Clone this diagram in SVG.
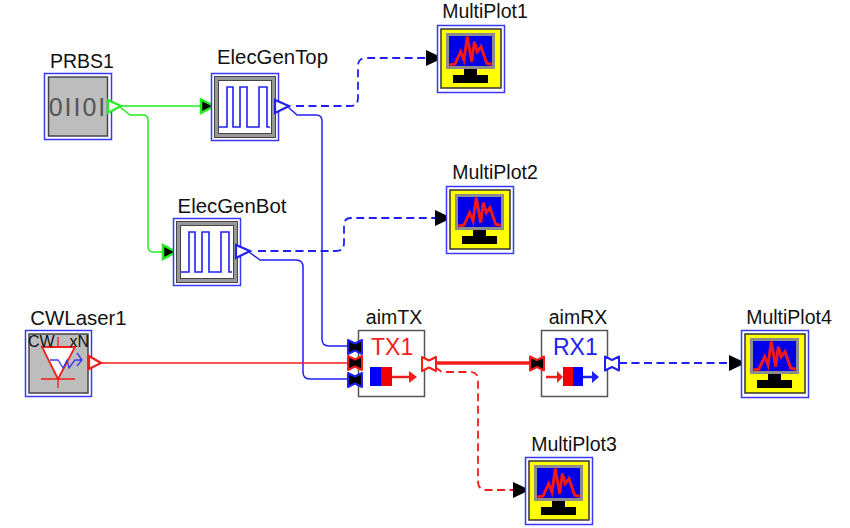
<svg xmlns="http://www.w3.org/2000/svg" xmlns:xlink="http://www.w3.org/1999/xlink" width="850" height="528" viewBox="0 0 850 528">
<style>
text{font-family:"Liberation Sans",Arial,sans-serif;fill:#111}
.lbl{font-size:19.5px;text-anchor:middle}
.wid{font-size:20.4px}
.out{fill:#fff;stroke:#3a3af5;stroke-width:1.5}
.wire{fill:none;stroke-width:1.5}
.dash{stroke-width:1.8;stroke-dasharray:8 4.500}
.g{stroke:#22ee22}.b{stroke:#2020f5}.r{stroke:#f51c1c}
.ah{fill:#000;stroke-width:2.5}
.po{fill:#fff;stroke-width:2.2}
</style>
<defs>
<g id="plot">
<rect class="out" x="0.5" y="0.5" width="67" height="67"/>
<rect x="4" y="4" width="60" height="59" fill="#ffff00" stroke="#333" stroke-width="1.500"/>
<rect x="9" y="8" width="49" height="36" fill="#8c8c8c"/>
<rect x="12" y="11" width="43" height="30" fill="#0000e8"/>
<polyline points="12.300,40 18,39 23.700,26.700 27,35 30.300,11.700 34.700,36.700 37.300,16.700 40.300,26.700 44,21.700 49.700,38.300 54.700,39.300" fill="none" stroke="#f01818" stroke-width="3"/>
<rect x="27" y="44" width="13" height="6" fill="#000"/>
<rect x="16" y="50" width="35" height="8" fill="#000"/>
</g>
<g id="wave">
<rect class="out" x="0.5" y="0.5" width="67" height="67"/>
<rect x="3" y="3" width="62" height="62" fill="#444"/>
<rect x="4" y="4" width="60" height="60" fill="#999"/>
<rect x="7" y="7" width="54" height="54" fill="#444"/>
<rect x="8" y="8" width="52" height="52" fill="#fff"/>
<polyline points="8,54 16,54 16,14 22,14 22,54 29,54 29,14 36,14 36,54 48,54 48,14 56,14 56,54 59,54" fill="none" stroke="#2020f5" stroke-width="1.600"/>
</g>
<g id="bow">
<polygon points="-7,-7 0,-3.500 7,-7 7,7 0,3.500 -7,7" stroke-linejoin="round"/>
</g>
</defs>

<g id="connectors">
<path class="wire g" d="M120,106 H200"/>
<path class="wire g" d="M120,107 L130,115 H143 Q148,115 148,120 V246 Q148,252 153,252 H162"/>
<path class="wire b dash" d="M296,106 H350 Q358,106 358,98 V66 Q358,58 366,58 H426"/>
<path class="wire b" d="M288,107 L297,115 H316 Q322,115 322,121 V339 Q322,346 329,346 H348"/>
<path class="wire b dash" d="M258,251 H336 Q344,251 344,243 V225 Q344,218 351,218 H436"/>
<path class="wire b" d="M249,252 L260,260 H296 Q303,260 303,267 V372 Q303,379 310,379 H348"/>
<path class="wire r" d="M100,363 H348"/>
<path class="wire r" style="stroke-width:3.500" d="M436,363 H531"/>
<path class="wire r dash" d="M435,367 L442,372 H470 Q478,372 478,380 V481 Q478,490 486,490 H514"/>
<path class="wire b dash" d="M619,363 H730"/>
<polygon class="ah g" points="201,99.500 201,113 214,106"/>
<polygon class="ah g" points="163,245 163,259 176,252"/>
<polygon points="426,50 426,66 443,58" fill="#000"/>
<polygon points="435,210 435,226 452,218" fill="#000"/>
<polygon points="513,482 513,498 530,490" fill="#000"/>
<polygon points="729,355 729,371 746,363" fill="#000"/>
</g>

<g id="PRBS1">
<text class="lbl" x="82" y="68">PRBS1</text>
<rect class="out" x="44.500" y="73.500" width="67" height="66"/>
<rect x="48.500" y="77" width="59" height="59" fill="#bdbdbd" stroke="#444" stroke-width="1.500"/>
<text x="78" y="116" font-size="25" text-anchor="middle" letter-spacing="2" style="fill:#555">0II0I</text>
<polygon class="po g" points="108,100 108,113 121,106"/>
</g>

<g id="ElecGenTop">
<text class="lbl wid" x="272.500" y="64">ElecGenTop</text>
<use xlink:href="#wave" href="#wave" x="211" y="73"/>
<polygon class="po b" points="275,100 275,113 289,106"/>
</g>

<g id="ElecGenBot">
<text class="lbl wid" x="232" y="213">ElecGenBot</text>
<use xlink:href="#wave" href="#wave" x="173" y="218"/>
<polygon class="po b" points="236,245 236,258 250,251"/>
</g>

<g id="CWLaser1">
<text class="lbl wid" x="78.500" y="325">CWLaser1</text>
<rect class="out" x="25.500" y="330.500" width="66" height="66"/>
<rect x="29" y="334" width="59" height="59" fill="#bdbdbd" stroke="#444" stroke-width="1.500"/>
<polygon points="42,347 75,347 58,379" fill="#fff" stroke="#f51c1c" stroke-width="1.800"/>
<path d="M58,337 V347 M41,379 H75 M58,379 V388" fill="none" stroke="#f51c1c" stroke-width="1.300"/>
<path d="M50,360 H58 L63,368 L67,360 L69,368 L75,360 H82 M77,353 L82,360 L77,366" fill="none" stroke="#3a3af5" stroke-width="1.300"/>
<text x="28" y="347" font-size="16">CW</text>
<text x="69.500" y="347" font-size="16">xN</text>
<polygon class="po r" points="89,356 89,369 101,363"/>
</g>

<g id="aimTX">
<text class="lbl" x="394" y="324">aimTX</text>
<rect x="358.500" y="330.500" width="66" height="66" fill="#fff" stroke="#555" stroke-width="1.500"/>
<text x="371" y="355" font-size="23" style="fill:#f51c1c">TX1</text>
<rect x="370" y="367" width="11" height="19" fill="#0000ff"/>
<rect x="381" y="367" width="11" height="19" fill="#f00000"/>
<path d="M392,377 H411" stroke="#f51c1c" stroke-width="2.500" fill="none"/>
<polygon points="409,371 417,377 409,383" fill="#f51c1c"/>
<use xlink:href="#bow" href="#bow" x="355" y="347" fill="#000" stroke="#2020f5" stroke-width="2"/>
<use xlink:href="#bow" href="#bow" x="355" y="363" fill="#000" stroke="#f51c1c" stroke-width="2"/>
<use xlink:href="#bow" href="#bow" x="355" y="380" fill="#000" stroke="#2020f5" stroke-width="2"/>
<use xlink:href="#bow" href="#bow" x="429" y="364" fill="#fff" stroke="#f51c1c" stroke-width="2"/>
</g>

<g id="aimRX">
<text class="lbl" x="578" y="324">aimRX</text>
<rect x="541.500" y="330.500" width="66" height="66" fill="#fff" stroke="#555" stroke-width="1.500"/>
<text x="553" y="355" font-size="23" style="fill:#2020f5">RX1</text>
<path d="M546,377 H560" stroke="#f51c1c" stroke-width="2.500" fill="none"/>
<polygon points="557,371 563,377 557,383" fill="#f51c1c"/>
<rect x="563" y="367" width="10" height="19" fill="#f00000"/>
<rect x="573" y="367" width="10" height="19" fill="#0000ff"/>
<path d="M583,377 H594" stroke="#2020f5" stroke-width="2.500" fill="none"/>
<polygon points="592,371 599,377 592,383" fill="#2020f5"/>
<use xlink:href="#bow" href="#bow" x="537" y="363.500" fill="#000" stroke="#f51c1c" stroke-width="2"/>
<use xlink:href="#bow" href="#bow" x="612" y="363.500" fill="#fff" stroke="#2020f5" stroke-width="2"/>
</g>

<g id="MultiPlot1"><text class="lbl" x="485" y="18">MultiPlot1</text><use xlink:href="#plot" href="#plot" x="437" y="25"/></g>
<g id="MultiPlot2"><text class="lbl" x="495" y="179">MultiPlot2</text><use xlink:href="#plot" href="#plot" x="446" y="186"/></g>
<g id="MultiPlot3"><text class="lbl" x="574" y="451">MultiPlot3</text><use xlink:href="#plot" href="#plot" x="525" y="457"/></g>
<g id="MultiPlot4"><text class="lbl" x="789" y="324">MultiPlot4</text><use xlink:href="#plot" href="#plot" x="741" y="330"/></g>
</svg>
